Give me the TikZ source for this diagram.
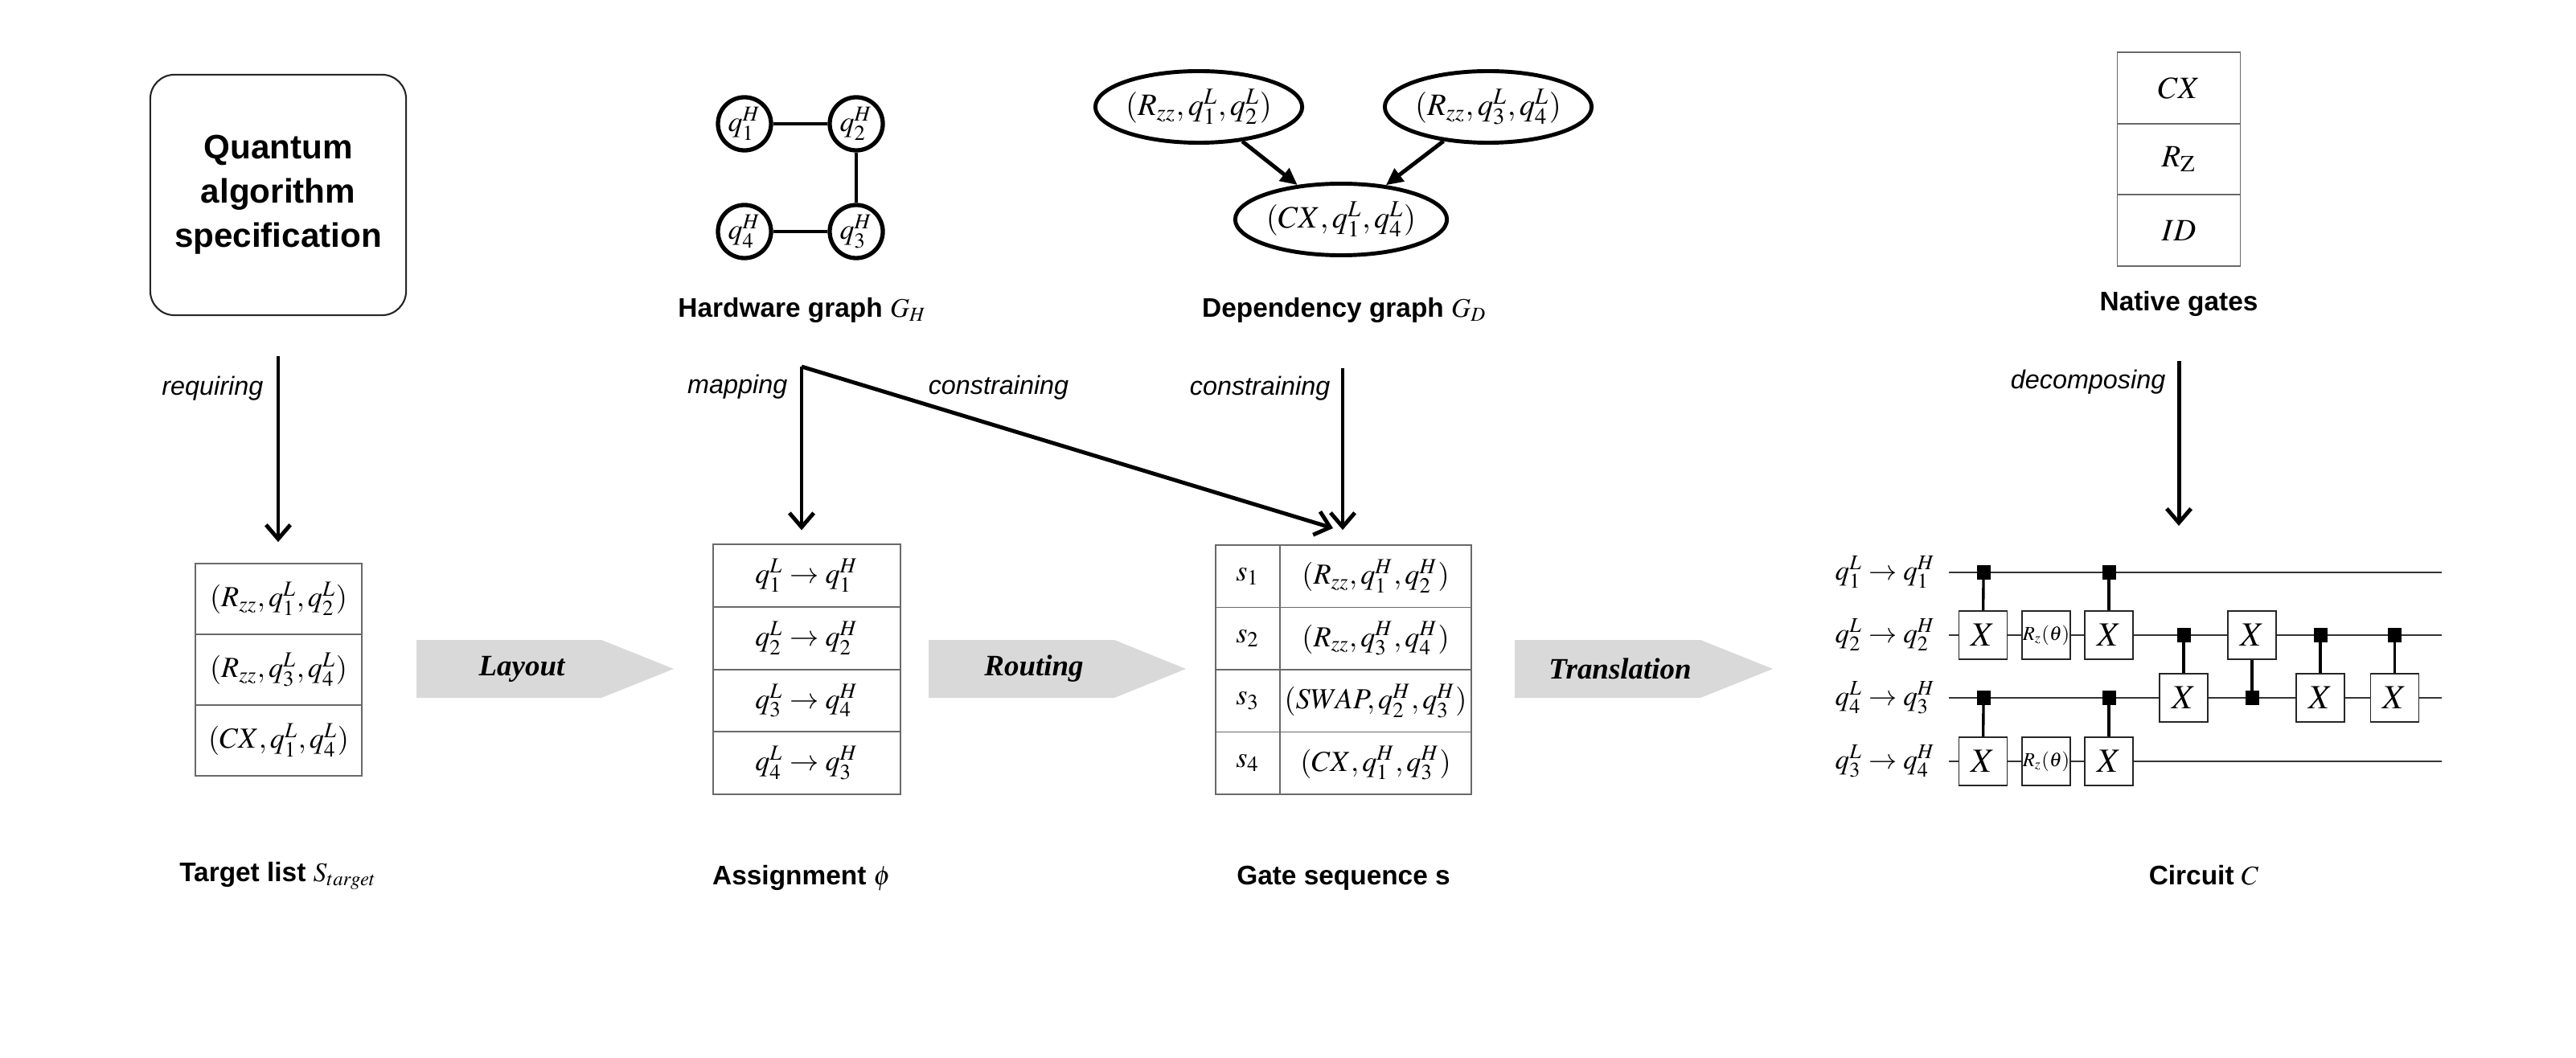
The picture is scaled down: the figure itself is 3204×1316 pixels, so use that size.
\documentclass[tikz,border=0pt]{standalone}
\usepackage{mathptmx}
\usepackage{fontspec}
\setmainfont{Liberation Serif}
\setsansfont{Liberation Sans}
\usetikzlibrary{shapes.geometric,arrows.meta}
\definecolor{arrowgray}{RGB}{217,217,217}
\definecolor{tblgray}{RGB}{105,105,105}
\begin{document}
\begin{tikzpicture}[x=0.01cm,y=-0.01cm,
  boldlbl/.style={font=\sffamily\bfseries\fontsize{9.5}{11}\selectfont, inner sep=0pt},
  itlbl/.style={font=\sffamily\itshape\fontsize{9.2}{11}\selectfont, inner sep=0pt},
  heavy/.style={line width=1.4pt},
  flowarrow/.style={line width=1.4pt, -{Straight Barb[length=5pt,width=8.6pt]}},
  deparrow/.style={line width=1.4pt, -{Triangle[length=6pt,width=5.5pt]}},
  cell/.style={draw=tblgray, line width=0.45pt, inner sep=0pt, font=\fontsize{10.3}{12}\selectfont},
  tcell/.style={cell, minimum width=2.07cm, minimum height=0.88cm},
  acell/.style={cell, minimum width=2.33cm, minimum height=0.775cm},
  scell/.style={cell, minimum width=0.80cm, minimum height=0.775cm},
  gcell/.style={cell, minimum width=2.38cm, minimum height=0.775cm},
  ncell/.style={cell, minimum width=1.53cm, minimum height=0.887cm, font=\fontsize{11}{13}\selectfont},
  specbox/.style={draw=black!85, line width=0.6pt, rounded corners=0.3cm, minimum width=3.18cm, minimum height=2.99cm, align=center, font=\sffamily\bfseries\fontsize{12}{15.6}\selectfont},
  qnode/.style={circle, draw, line width=1.5pt, minimum size=0.66cm, inner sep=0pt, font=\fontsize{10.2}{12}\selectfont},
  dnode/.style={ellipse, draw, line width=1.4pt, minimum width=2.31cm, minimum height=0.89cm, inner sep=0pt, font=\fontsize{11}{13}\selectfont},
  flowtext/.style={font=\rmfamily\bfseries\itshape\fontsize{10.5}{12}\selectfont, inner sep=0pt},
  gate/.style={draw=black!85, fill=white, line width=0.4pt, minimum size=0.6cm, inner sep=0pt, font=\fontsize{12}{14}\selectfont},
  rzgate/.style={gate, font=\fontsize{7}{8}\selectfont},
  ctrlsq/.style={fill=black, minimum size=0.17cm, inner sep=0pt},
  ctrlline/.style={line width=0.95pt},
  wire/.style={line width=0.35pt, draw=black!80},
  qlbl/.style={anchor=east, inner sep=0pt, font=\fontsize{10}{12}\selectfont}
]
\useasboundingbox (0,0) rectangle (3204,1316);

% ---------------- top row ----------------
\node[specbox] (spec) at (346,242.5) {Quantum\\algorithm\\specification};

% hardware graph
\node[qnode] (h1) at (926,154) {$q_1^H$};
\node[qnode] (h2) at (1065,154) {$q_2^H$};
\node[qnode] (h3) at (1065,288) {$q_3^H$};
\node[qnode] (h4) at (926,288) {$q_4^H$};
\draw[heavy] (h1) -- (h2);
\draw[heavy] (h2) -- (h3);
\draw[heavy] (h4) -- (h3);
\node[boldlbl] (hwlbl) at (998,386) {Hardware graph $G_H$};

% dependency graph
\node[dnode] (e1) at (1491,133) {$(R_{zz}, q_1^L, q_2^L)$};
\node[dnode] (e2) at (1851,133) {$(R_{zz}, q_3^L, q_4^L)$};
\node[dnode] (e3) at (1668,273) {$(CX, q_1^L, q_4^L)$};
\draw[deparrow] (e1) -- (e3);
\draw[deparrow] (e2) -- (e3);
\node[boldlbl] (dglbl) at (1672,386) {Dependency graph $G_D$};

% native gates
\node[ncell] (n1) at (2710,109.5) {$CX$};
\node[ncell] (n2) at (2710,198) {$R_{\mathrm{Z}}$};
\node[ncell] (n3) at (2710,286.5) {$ID$};
\node[boldlbl] (nglbl) at (2710,378) {Native gates};

% ---------------- bottom row ----------------
% target list
\node[tcell] (t1) at (346.5,745) {$(R_{zz}, q_1^L, q_2^L)$};
\node[tcell] (t2) at (346.5,833) {$(R_{zz}, q_3^L, q_4^L)$};
\node[tcell] (t3) at (346.5,921) {$(CX, q_1^L, q_4^L)$};
\node[boldlbl] (tlbl) at (346,1089) {Target list $S_{target}$};

% assignment
\node[acell] (a1) at (1003.5,716) {$q_1^L \rightarrow q_1^H$};
\node[acell] (a2) at (1003.5,794) {$q_2^L \rightarrow q_2^H$};
\node[acell] (a3) at (1003.5,871.5) {$q_3^L \rightarrow q_4^H$};
\node[acell] (a4) at (1003.5,949) {$q_4^L \rightarrow q_3^H$};
\node[boldlbl] (albl) at (997,1092) {Assignment $\phi$};

% gate sequence
\node[scell] (s1) at (1552,716.75) {$s_1$};
\node[scell] (s2) at (1552,794.25) {$s_2$};
\node[scell] (s3) at (1552,871.75) {$s_3$};
\node[scell] (s4) at (1552,949.25) {$s_4$};
\node[gcell] (g1) at (1711,716.75) {$(R_{zz}, q_1^H, q_2^H)$};
\node[gcell] (g2) at (1711,794.25) {$(R_{zz}, q_3^H, q_4^H)$};
\node[gcell] (g3) at (1711,871.75) {$(SWAP, q_2^H, q_3^H)$};
\node[gcell] (g4) at (1711,949.25) {$(CX, q_1^H, q_3^H)$};
\node[boldlbl] (glbl) at (1671,1092) {Gate sequence s};

% process arrows
\fill[arrowgray] (518,796) -- (748,796) -- (838,832) -- (748,868) -- (518,868) -- cycle;
\node[flowtext] (layout) at (649,832) {Layout};
\fill[arrowgray] (1155,796) -- (1386,796) -- (1475,832) -- (1386,868) -- (1155,868) -- cycle;
\node[flowtext] (routing) at (1286,832) {Routing};
\fill[arrowgray] (1884,796) -- (2115,796) -- (2205,832) -- (2115,868) -- (1884,868) -- cycle;
\node[flowtext] (translation) at (2015,832) {Translation};

% ---------------- connectors ----------------
\coordinate (reqstart) at (346,443);
\coordinate (hwout) at (997,456);
\coordinate (diagend) at (1658,657);
\coordinate (dgout) at (1670,458);
\coordinate (decstart) at (2710,449);
\coordinate (decend) at (2710,654);

\draw[flowarrow, shorten >=0.26cm] (reqstart) -- (reqstart |- t1.north);
\node[itlbl, anchor=east] (reqlbl) at (328,483) {requiring};

\draw[flowarrow, shorten >=0.17cm] (hwout) -- (hwout |- a1.north);
\node[itlbl, anchor=east] (maplbl) at (980,481) {mapping};

\draw[flowarrow] (hwout) -- (diagend);
\node[itlbl] (conlbl1) at (1242,482) {constraining};

\draw[flowarrow, shorten >=0.18cm] (dgout) -- (dgout |- g1.north);
\node[itlbl, anchor=east] (conlbl2) at (1655,483) {constraining};

\draw[flowarrow] (decstart) -- (decend);
\node[itlbl, anchor=east] (declbl) at (2694,475) {decomposing};

% ---------------- circuit ----------------
\node[qlbl] (l1) at (2408,712) {$q_1^L \rightarrow q_1^H$};
\node[qlbl] (l2) at (2408,790) {$q_2^L \rightarrow q_2^H$};
\node[qlbl] (l3) at (2408,868) {$q_4^L \rightarrow q_3^H$};
\node[qlbl] (l4) at (2408,947) {$q_3^L \rightarrow q_4^H$};
\coordinate (w1s) at (2424,712); \coordinate (w1e) at (3037,712);
\coordinate (w2s) at (2424,790); \coordinate (w2e) at (3037,790);
\coordinate (w3s) at (2424,868); \coordinate (w3e) at (3037,868);
\coordinate (w4s) at (2424,947); \coordinate (w4e) at (3037,947);
\draw[wire] (w1s) -- (w1e);
\draw[wire] (w2s) -- (w2e);
\draw[wire] (w3s) -- (w3e);
\draw[wire] (w4s) -- (w4e);

\node[ctrlsq] (cA) at (2467,712) {};
\node[ctrlsq] (cC) at (2623,712) {};
\node[ctrlsq] (cD) at (2716,790) {};
\node[ctrlsq] (cE) at (2801,868) {};
\node[ctrlsq] (cF) at (2886,790) {};
\node[ctrlsq] (cG) at (2978.5,790) {};
\node[ctrlsq] (cH) at (2467,868) {};
\node[ctrlsq] (cJ) at (2623,868) {};

\node[gate] (gA) at (2466.5,790) {$X$};
\node[rzgate] (gB) at (2545,790) {$R_z(\theta)$};
\node[gate] (gC) at (2623,790) {$X$};
\node[gate] (gD) at (2716,868) {$X$};
\node[gate] (gE) at (2801,790) {$X$};
\node[gate] (gF) at (2886,868) {$X$};
\node[gate] (gG) at (2978.5,868) {$X$};
\node[gate] (gH) at (2466.5,947) {$X$};
\node[rzgate] (gI) at (2545,947) {$R_z(\theta)$};
\node[gate] (gJ) at (2623,947) {$X$};

\draw[ctrlline] (cA) -- (gA);
\draw[ctrlline] (cC) -- (gC);
\draw[ctrlline] (cD) -- (gD);
\draw[ctrlline] (cE) -- (gE);
\draw[ctrlline] (cF) -- (gF);
\draw[ctrlline] (cG) -- (gG);
\draw[ctrlline] (cH) -- (gH);
\draw[ctrlline] (cJ) -- (gJ);

\node[boldlbl] (clbl) at (2741,1089) {Circuit $C$};
\end{tikzpicture}
\end{document}
